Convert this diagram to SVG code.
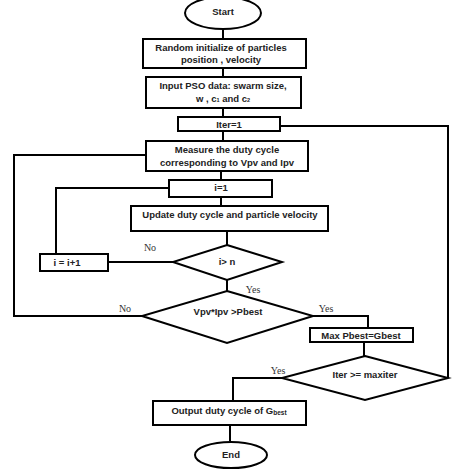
<svg xmlns="http://www.w3.org/2000/svg" width="474" height="474" viewBox="0 0 474 474">
<style>
.n{fill:#fff;stroke:#000;stroke-width:2}
.t{font-family:"Liberation Sans",Arial,sans-serif;font-weight:bold;font-size:9.5px;fill:#222;text-anchor:middle;dominant-baseline:middle}
.l{font-family:"Liberation Serif","Times New Roman",serif;font-size:10px;fill:#333;text-anchor:middle;dominant-baseline:middle}
.c{fill:none;stroke:#000;stroke-width:2}
</style>
<rect width="474" height="474" fill="#fff"/>
<g id="connectors">
<path class="c" d="M223 29V39M223 68V77M223 108V117M280 126H448V378M223 131V141M146 155H14V316H142M221 171V180M169 188H56V254M221 197V206M227 231V245M173 262H108M227 280V291M313 316H368V328M364 342V356M282 378H233V401M230 425V441"/>
</g>
<g id="start"><ellipse class="n" cx="223" cy="13" rx="38" ry="16"/><text class="t" x="223" y="12">Start</text></g>
<g id="init"><rect class="n" x="143" y="39" width="163" height="29"/><text class="t" x="221" y="48">Random initialize of particles</text><text class="t" x="221" y="60">position , velocity</text></g>
<g id="input"><rect class="n" x="146" y="77" width="155" height="31"/><text class="t" x="223" y="86">Input PSO data: swarm size,</text><text class="t" x="223" y="99">w , c<tspan font-size="5.5" dy="2">1</tspan><tspan dy="-2"> and c</tspan><tspan font-size="5.5" dy="2">2</tspan></text></g>
<g id="iter1"><rect class="n" x="178" y="117" width="102" height="14"/><text class="t" x="229" y="125">Iter=1</text></g>
<g id="measure"><rect class="n" x="146" y="141" width="162" height="30"/><text class="t" x="227" y="150">Measure the duty cycle</text><text class="t" x="227" y="163">corresponding to Vpv and Ipv</text></g>
<g id="i1"><rect class="n" x="169" y="180" width="103" height="17"/><text class="t" x="221" y="188">i=1</text></g>
<g id="update"><rect class="n" x="131" y="206" width="197" height="25"/><text class="t" x="230" y="215">Update duty cycle and particle velocity</text></g>
<g id="dec1"><polygon class="n" points="227,245 282,262 227,280 173,262"/><text class="t" x="227" y="262">i&gt; n</text></g>
<g id="inc"><rect class="n" x="40" y="254" width="68" height="17"/><text class="t" x="67" y="263">i = i+1</text></g>
<g id="dec2"><polygon class="n" points="227,291 313,316 227,343 142,316"/><text class="t" x="228" y="312">Vpv*Ipv &gt;Pbest</text></g>
<g id="max"><rect class="n" x="310" y="328" width="103" height="14"/><text class="t" x="361" y="336">Max Pbest=Gbest</text></g>
<g id="dec3"><polygon class="n" points="365,356 448,378 365,400 282,378"/><text class="t" x="365" y="375">Iter &gt;= maxiter</text></g>
<g id="output"><rect class="n" x="153" y="401" width="153" height="24"/><text class="t" x="229" y="411">Output duty cycle of G<tspan font-size="6.5" dy="1.5">best</tspan></text></g>
<g id="end"><ellipse class="n" cx="231" cy="455" rx="36" ry="13"/><text class="t" x="231" y="455">End</text></g>
<g id="labels">
<text class="l" x="150" y="249">No</text>
<text class="l" x="253" y="291">Yes</text>
<text class="l" x="125" y="310">No</text>
<text class="l" x="326" y="310">Yes</text>
<text class="l" x="278" y="372">Yes</text>
</g>
</svg>
